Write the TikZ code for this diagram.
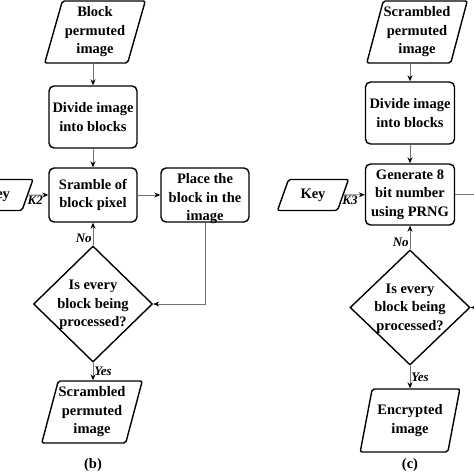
\documentclass[tikz,border=0pt]{standalone}
\usepackage{fontspec}
\setmainfont{Liberation Serif}
\usepackage{tikz}
\usetikzlibrary{shapes.geometric}
\usetikzlibrary{arrows.meta}

\begin{document}
\begin{tikzpicture}[x=1pt, y=-1pt,
	every node/.style={font=\bfseries\fontsize{14.5}{18.5}\selectfont, align=center},
	proc/.style={draw, line width=1.4pt, rounded corners=5pt, minimum width=88pt, minimum height=54pt, inner sep=0pt},
	io/.style={draw, line width=1.4pt, trapezium, trapezium stretches=true, trapezium left angle=72, trapezium right angle=108, minimum width=101pt, minimum height=62pt, inner sep=0pt, rounded corners=2pt},
	keybox/.style={io, trapezium left angle=66, trapezium right angle=114, minimum width=71pt, minimum height=31pt},
	decision/.style={draw, line width=1.4pt, diamond, minimum width=119pt, minimum height=116pt, inner sep=0pt},
	conn/.style={draw=black!55, line width=0.7pt, -{Stealth[length=6pt, width=5pt, black]}},
	lbl/.style={font=\bfseries\itshape\fontsize{13}{15}\selectfont, inner sep=1pt}]
	\useasboundingbox (0,0) rectangle (474,474);
	\clip (0,0) rectangle (474,474);

	% (b)
	\node[io] (inb) at (95,32) {Block\\permuted\\image};
	\node[proc, minimum height=62pt] (divb) at (93,117) {Divide image\\into blocks};
	\node[proc] (scrb) at (93,195) {Sramble of\\block pixel};
	\node[keybox] (keyb) at (-2.5,195) {Key};
	\node[proc] (plcb) at (205,195) {\smash{\raisebox{-7pt}{\begin{tabular}{@{}c@{}}Place the\\block in the\\image\end{tabular}}}};
	\node[decision] (decb) at (93,304) {\smash{\raisebox{-4pt}{\begin{tabular}{@{}c@{}}Is every\\block being\\processed?\end{tabular}}}};
	\node[io] (outb) at (92,412) {Scrambled\\permuted\\image};
	\node (capb) at (93,465) {(b)};

	\draw[conn] (inb.south -| divb.north) -- (divb.north);
	\draw[conn] (divb) -- (scrb);
	\draw[conn] (keyb) -- (scrb) node[lbl, pos=0.35, below] {K2};
	\draw[conn] (scrb) -- (plcb);
	\draw[conn] (plcb.south) |- (decb.east);
	\draw[conn] (decb) -- (scrb) node[lbl, pos=0.3, left] {No};
	\draw[conn] (decb.south) -- (decb.south |- outb.north) node[lbl, midway, right] {Yes};

	% (c)
	\node[io] (inc) at (417,32) {Scrambled\\permuted\\image};
	\node[proc, minimum width=89pt, minimum height=62pt] (divc) at (410,113) {Divide image\\into blocks};
	\node[proc, minimum width=89pt, minimum height=61pt] (genc) at (410,194.5) {Generate 8\\bit number\\using PRNG};
	\node[keybox] (keyc) at (313,195) {Key};
	\node[decision, minimum width=120pt, minimum height=115pt] (decc) at (410,307.5) {\smash{\raisebox{-4pt}{\begin{tabular}{@{}c@{}}Is every\\block being\\processed?\end{tabular}}}};
	\node[io, minimum width=100pt, minimum height=63pt] (outc) at (410,420.5) {Encrypted\\image};
	\node (capc) at (410,465) {(c)};
	\coordinate (offg) at (480,194.5);
	\coordinate (offd) at (480,307.5);

	\draw[conn] (inc.south -| divc.north) -- (divc.north);
	\draw[conn] (divc) -- (genc);
	\draw[conn] (keyc) -- (genc) node[lbl, pos=0.3, below] {K3};
	\draw[draw=black!55, line width=0.7pt] (genc) -- (offg);
	\draw[conn] (offd) -- (decc);
	\draw[conn] (decc) -- (genc) node[lbl, pos=0.3, left] {No};
	\draw[conn] (decc.south) -- (decc.south |- outc.north) node[lbl, midway, right] {Yes};
\end{tikzpicture}
\end{document}
